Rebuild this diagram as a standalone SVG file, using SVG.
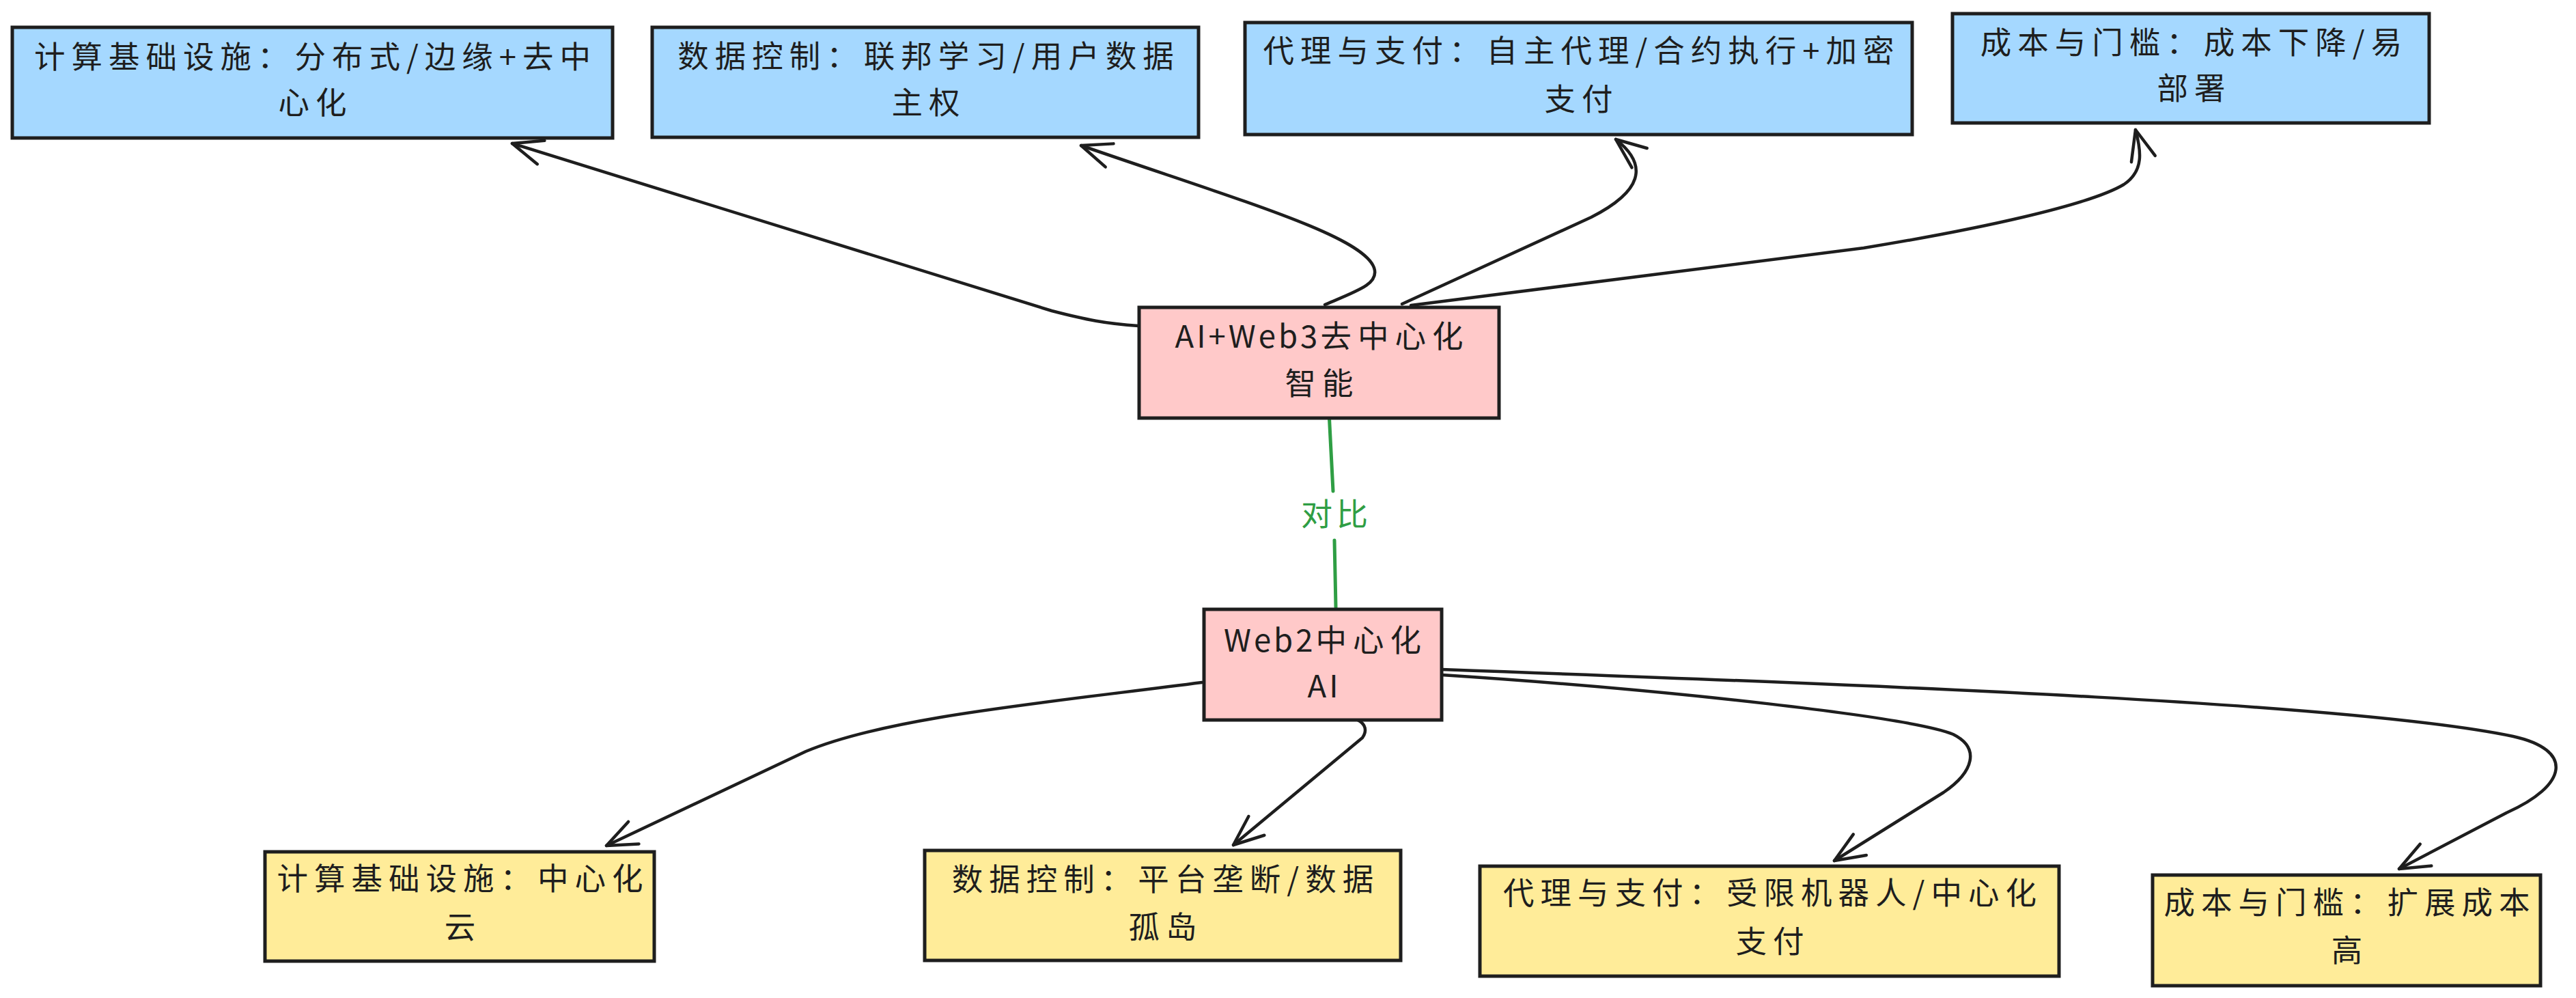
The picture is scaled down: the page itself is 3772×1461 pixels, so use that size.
<svg xmlns="http://www.w3.org/2000/svg" width="3772" height="1461" viewBox="0 0 3772 1461">
<style>
.blue{fill:#a5d8ff;stroke:#1e1e1e;stroke-width:5}
.pink{fill:#ffc9c9;stroke:#1e1e1e;stroke-width:5}
.yellow{fill:#ffec99;stroke:#1e1e1e;stroke-width:5}
.t{font-family:"Noto Sans CJK SC","Noto Sans",sans-serif;font-size:45.5px;letter-spacing:9px;fill:#1e1e1e;text-anchor:middle}
.lat{letter-spacing:4px}
.lbl{font-family:"Noto Sans CJK SC","Noto Sans",sans-serif;font-size:46px;letter-spacing:6px;fill:#2f9e44;text-anchor:middle}
.c{fill:none;stroke:#1e1e1e;stroke-width:4.5;stroke-linecap:round;stroke-linejoin:round}
.g{fill:none;stroke:#2f9e44;stroke-width:5;stroke-linecap:round}
</style>
<defs>
<marker id="ah" markerUnits="userSpaceOnUse" orient="auto" overflow="visible" refX="0" refY="0" markerWidth="1" markerHeight="1">
<path d="M-44,-18 L0,0 L-44,18" fill="none" stroke="#1e1e1e" stroke-width="4.5" stroke-linecap="round" stroke-linejoin="round"/>
</marker>
</defs>
<rect width="3772" height="1461" fill="#ffffff"/>

<g id="connectors">
<path class="c" marker-end="url(#ah)" d="M1667,477 C1620,474 1590,468 1540,455 L750,210"/>
<path class="c" marker-end="url(#ah)" d="M1940,446 C1990,425 2020,415 2012,392 C1995,345 1820,295 1583,213"/>
<path class="c" marker-end="url(#ah)" d="M2053,445 L2330,318 Q2440,262 2366,204"/>
<path class="c" marker-end="url(#ah)" d="M2066,447 L2729,363 C2900,335 3060,300 3110,270 C3140,250 3135,220 3127,190"/>
<path class="c" marker-end="url(#ah)" d="M1760,999 C1520,1030 1300,1050 1180,1100 L888,1238"/>
<path class="c" marker-end="url(#ah)" d="M1988,1054 C2000,1060 2002,1070 1995,1080 L1806,1237"/>
<path class="c" marker-end="url(#ah)" d="M2111,988 C2450,1010 2800,1050 2860,1075 C2900,1095 2890,1130 2846,1160 L2686,1260"/>
<path class="c" marker-end="url(#ah)" d="M2111,980 C2800,1005 3450,1030 3680,1078 C3770,1098 3760,1150 3670,1190 L3513,1272"/>
<path class="g" d="M1946,603 L1952,719"/>
<path class="g" d="M1954,791 L1956,889"/>
<text class="lbl" x="1957" y="769">对比</text>
</g>

<g id="top-compute">
<rect class="blue" x="18" y="40" width="879" height="162"/>
<text class="t" x="462" y="100">计算基础设施：分布式/边缘+去中<tspan x="462" dy="67">心化</tspan></text>
</g>
<g id="top-data">
<rect class="blue" x="955" y="40" width="800" height="161"/>
<text class="t" x="1360" y="99">数据控制：联邦学习/用户数据<tspan x="1360" dy="68">主权</tspan></text>
</g>
<g id="top-agent">
<rect class="blue" x="1823" y="33" width="977" height="164"/>
<text class="t" x="2316" y="91">代理与支付：自主代理/合约执行+加密<tspan x="2316" dy="71">支付</tspan></text>
</g>
<g id="top-cost">
<rect class="blue" x="2859" y="20" width="698" height="160"/>
<text class="t" x="3213" y="79">成本与门槛：成本下降/易<tspan x="3213" dy="67">部署</tspan></text>
</g>
<g id="web3">
<rect class="pink" x="1668" y="450" width="527" height="162"/>
<text class="t" x="1936" y="509"><tspan class="lat">AI+Web3</tspan>去中心化<tspan x="1936" dy="69">智能</tspan></text>
</g>
<g id="web2">
<rect class="pink" x="1763" y="892" width="348" height="162"/>
<text class="t" x="1941" y="954"><tspan class="lat">Web2</tspan>中心化<tspan class="lat" x="1939" dy="67">AI</tspan></text>
</g>
<g id="bottom-compute">
<rect class="yellow" x="388" y="1247" width="570" height="160"/>
<text class="t" x="678" y="1303">计算基础设施：中心化<tspan x="678" dy="71">云</tspan></text>
</g>
<g id="bottom-data">
<rect class="yellow" x="1354" y="1245" width="697" height="161"/>
<text class="t" x="1707" y="1304">数据控制：平台垄断/数据<tspan x="1707" dy="70">孤岛</tspan></text>
</g>
<g id="bottom-agent">
<rect class="yellow" x="2167" y="1268" width="848" height="161"/>
<text class="t" x="2596" y="1324">代理与支付：受限机器人/中心化<tspan x="2596" dy="71">支付</tspan></text>
</g>
<g id="bottom-cost">
<rect class="yellow" x="3152" y="1281" width="568" height="162"/>
<text class="t" x="3441" y="1338">成本与门槛：扩展成本<tspan x="3441" dy="70">高</tspan></text>
</g>
</svg>
